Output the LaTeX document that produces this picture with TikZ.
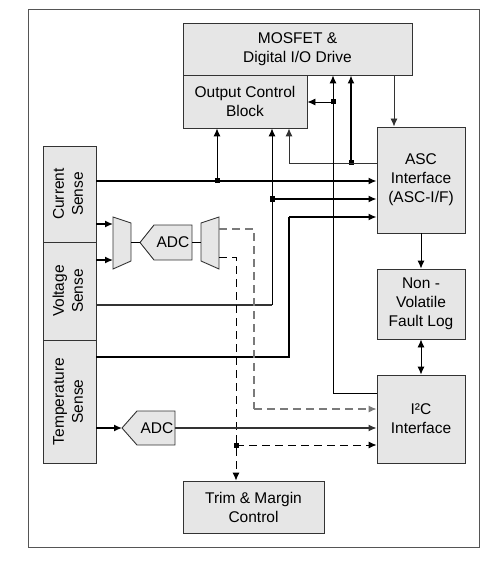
\documentclass[tikz,border=0pt]{standalone}
\usepackage{fontspec}
\setmainfont{Liberation Sans}
\usepackage{graphicx}
\usetikzlibrary{arrows.meta}
\definecolor{boxfill}{HTML}{E6E6E6}
\definecolor{boxline}{HTML}{333333}
\definecolor{wiregray}{HTML}{333333}
\definecolor{dashgray}{HTML}{7A7A7A}
\definecolor{framegray}{HTML}{555555}
\newcommand{\rtext}[1]{\rotatebox{90}{\begin{tabular}{@{}c@{}}#1\end{tabular}}}
\begin{document}
\begin{tikzpicture}[x=1pt,y=-1pt,
  box/.style={draw=boxline, fill=boxfill, line width=0.9pt, inner sep=0pt, align=center,
    font=\fontsize{15.5}{19}\selectfont, text=black},
  shp/.style={draw=boxline, fill=boxfill, line width=0.9pt},
  lbl/.style={inner sep=0pt, font=\fontsize{15.5}{19}\selectfont, text=black},
  wire/.style={line width=0.9pt, black},
  bwire/.style={line width=1.4pt, black},
  gwire/.style={line width=0.9pt, wiregray},
  dwire/.style={line width=0.9pt, black, dash pattern=on 8pt off 5pt},
  gdwire/.style={line width=1.1pt, dashgray, dash pattern=on 8pt off 5pt},
  arr/.style={-{Latex[length=8pt,width=7pt]}},
  darr/.style={{Latex[length=8pt,width=7pt]}-{Latex[length=8pt,width=7pt]}},
  dotsq/.style={rectangle, fill=black, minimum size=5pt, inner sep=0pt}
]
\useasboundingbox (0,0) rectangle (498,561);
\draw[framegray, line width=0.8pt] (28,9) rectangle (479,547);

% boxes
\node[box, minimum width=229pt, minimum height=52pt] (mos) at (297.5,49) {MOSFET \&\\Digital I/O Drive};
\node[box, minimum width=124pt, minimum height=53pt] (oc) at (245,101.5) {Output Control\\Block};
\node[box, minimum width=88pt, minimum height=106pt] (asc) at (421,180) {ASC\\Interface\\(ASC-I/F)};
\node[box, minimum width=88pt, minimum height=70pt] (nv) at (421,304) {Non -\\Volatile\\Fault Log};
\node[box, minimum width=88pt, minimum height=88pt] (i2c) at (421,419) {I²C\\Interface};
\node[box, minimum width=141pt, minimum height=52pt] (trim) at (253.5,507) {Trim \& Margin\\Control};
\node[box, minimum width=53pt, minimum height=96pt] (cur) at (69.5,194) {\rtext{Current\\Sense}};
\node[box, minimum width=53pt, minimum height=98pt] (volt) at (69.5,291) {\rtext{Voltage\\Sense}};
\node[box, minimum width=53pt, minimum height=123pt] (temp) at (69.5,401.5) {\rtext{Temperature\\Sense}};

% mux, ADC, demux
\draw[shp] (113,217) -- (131,223) -- (131,261) -- (113,269) -- cycle;
\draw[shp] (140,242.5) -- (154,225) -- (192,225) -- (192,260) -- (154,260) -- cycle;
\node[lbl] (adc1) at (173,242.5) {ADC};
\draw[shp] (201,223) -- (219,217) -- (219,269) -- (201,261) -- cycle;
\draw[shp] (122,428) -- (137,411) -- (175,411) -- (175,445) -- (137,445) -- cycle;
\node[lbl] (adc2) at (157,428) {ADC};

\coordinate (muxin1) at (113,224);
\coordinate (muxin2) at (113,260);
\coordinate (muxout) at (131,242.5);
\coordinate (adcin) at (140,242.5);
\coordinate (adcout) at (192,242.5);
\coordinate (dmxin) at (201,242.5);
\coordinate (dmxo1) at (219,229);
\coordinate (dmxo2) at (219,257);
\coordinate (adc2in) at (122,428);
\coordinate (adc2out) at (175,428);

% junctions
\node[dotsq] (j1) at (217,181) {};
\node[dotsq] (j2) at (272,199) {};
\node[dotsq] (j4) at (351,163) {};
\node[dotsq] (j5) at (333,102) {};
\node[dotsq] (jd) at (236,445) {};

% helper coordinates
\coordinate (vy) at (272,305);
\coordinate (ty) at (0,357);
\coordinate (tc) at (289,217);
\coordinate (ay) at (289,163);
\coordinate (ic) at (333,393);
\coordinate (mx) at (394,0);
\coordinate (d1c) at (254,409);

% current sense
\draw[bwire, arr] (cur.east |- j1) -- (asc.west |- j1);
\draw[wire, arr] (j1.center) -- (oc.south -| j1);
% voltage sense
\draw[gwire, line width=1.2pt] (volt.east |- vy) -- (vy);
\draw[wire, arr] (vy) -- (oc.south -| vy);
\draw[bwire, arr] (j2.center) -- (asc.west |- j2);
% temperature sense
\draw[bwire] (temp.east |- ty) -| (tc);
\draw[bwire, arr] (tc) -- (asc.west |- tc);
% ASC to output control and MOSFET
\draw[gwire, arr] (asc.west |- ay) -| (oc.south -| ay);
\draw[bwire, arr] (j4.center) -- (mos.south -| j4);
% I2C to MOSFET and output control
\draw[wire, arr] (i2c.west |- ic) -| (mos.south -| ic);
\draw[wire, arr] (j5.center) -- (oc.east |- j5);
% MOSFET to ASC
\draw[gwire, arr] (mos.south -| mx) -- (asc.north -| mx);
% ASC to NV, NV to I2C
\draw[wire, arr] (asc.south) -- (nv.north);
\draw[wire, darr] (nv.south) -- (i2c.north);

% sense to mux
\draw[bwire, arr] (cur.east |- muxin1) -- (muxin1);
\draw[bwire, arr] (volt.east |- muxin2) -- (muxin2);
\draw[bwire] (muxout) -- (adcin);
\draw[bwire] (adcout) -- (dmxin);

% demux outputs
\draw[gdwire] (dmxo1) -| (d1c);
\draw[gdwire, arr] (d1c) -- (i2c.west |- d1c);
\draw[dwire, arr] (dmxo2) -| (trim.north -| jd);
\draw[dwire, arr] (jd.center) -- (i2c.west |- jd);

% temperature ADC
\draw[bwire, arr] (temp.east |- adc2in) -- (adc2in);
\draw[gwire, line width=1.2pt, arr] (adc2out) -- (i2c.west |- adc2out);
\end{tikzpicture}
\end{document}
